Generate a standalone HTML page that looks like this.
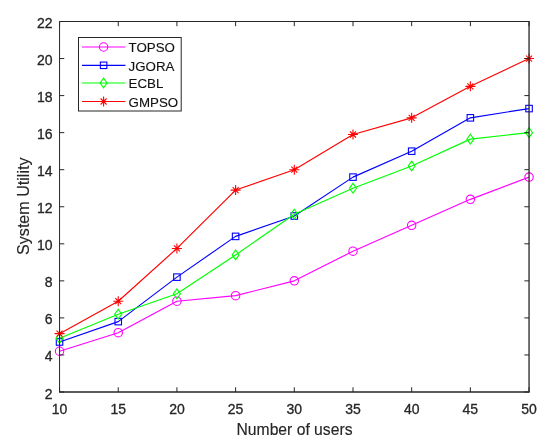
<!DOCTYPE html>
<html><head><meta charset="utf-8"><title>System Utility</title>
<style>
html,body{margin:0;padding:0;background:#fff;}
svg{display:block;filter:blur(0.35px);}
text{font-family:"Liberation Sans",Arial,sans-serif;fill:#262626;stroke:#262626;stroke-width:0.3px;}
.t{font-size:14px;}
.l{font-size:15.7px;stroke-width:0.15px;}
.g{font-size:13.3px;fill:#111;stroke:#111;stroke-width:0.12px;}
</style></head><body>
<svg width="550" height="448" viewBox="0 0 550 448">
<rect width="550" height="448" fill="#fff"/>
<polyline points="59.55,351.25 118.24,332.72 176.92,301.23 235.61,295.67 294.30,280.85 352.99,251.21 411.67,225.28 470.36,199.34 529.05,177.11" fill="none" stroke="#ff00ff" stroke-width="1.15" stroke-linejoin="round"/><circle cx="59.55" cy="351.25" r="4.2" fill="none" stroke="#ff00ff" stroke-width="1.1"/><circle cx="118.24" cy="332.72" r="4.2" fill="none" stroke="#ff00ff" stroke-width="1.1"/><circle cx="176.92" cy="301.23" r="4.2" fill="none" stroke="#ff00ff" stroke-width="1.1"/><circle cx="235.61" cy="295.67" r="4.2" fill="none" stroke="#ff00ff" stroke-width="1.1"/><circle cx="294.30" cy="280.85" r="4.2" fill="none" stroke="#ff00ff" stroke-width="1.1"/><circle cx="352.99" cy="251.21" r="4.2" fill="none" stroke="#ff00ff" stroke-width="1.1"/><circle cx="411.67" cy="225.28" r="4.2" fill="none" stroke="#ff00ff" stroke-width="1.1"/><circle cx="470.36" cy="199.34" r="4.2" fill="none" stroke="#ff00ff" stroke-width="1.1"/><circle cx="529.05" cy="177.11" r="4.2" fill="none" stroke="#ff00ff" stroke-width="1.1"/><polyline points="59.55,341.98 118.24,321.61 176.92,277.14 235.61,236.39 294.30,216.01 352.99,177.11 411.67,151.18 470.36,117.83 529.05,108.57" fill="none" stroke="#0000ff" stroke-width="1.15" stroke-linejoin="round"/><rect x="56.30" y="338.73" width="6.50" height="6.50" fill="none" stroke="#0000ff" stroke-width="1.1"/><rect x="114.99" y="318.36" width="6.50" height="6.50" fill="none" stroke="#0000ff" stroke-width="1.1"/><rect x="173.67" y="273.89" width="6.50" height="6.50" fill="none" stroke="#0000ff" stroke-width="1.1"/><rect x="232.36" y="233.14" width="6.50" height="6.50" fill="none" stroke="#0000ff" stroke-width="1.1"/><rect x="291.05" y="212.76" width="6.50" height="6.50" fill="none" stroke="#0000ff" stroke-width="1.1"/><rect x="349.74" y="173.86" width="6.50" height="6.50" fill="none" stroke="#0000ff" stroke-width="1.1"/><rect x="408.42" y="147.93" width="6.50" height="6.50" fill="none" stroke="#0000ff" stroke-width="1.1"/><rect x="467.11" y="114.58" width="6.50" height="6.50" fill="none" stroke="#0000ff" stroke-width="1.1"/><rect x="525.80" y="105.32" width="6.50" height="6.50" fill="none" stroke="#0000ff" stroke-width="1.1"/><polyline points="59.55,338.28 118.24,314.19 176.92,293.82 235.61,254.91 294.30,214.16 352.99,188.22 411.67,166.00 470.36,139.13 529.05,132.65" fill="none" stroke="#00ff00" stroke-width="1.15" stroke-linejoin="round"/><path d="M59.55 333.38L63.05 338.28L59.55 343.18L56.05 338.28Z" fill="none" stroke="#00ff00" stroke-width="1.1"/><path d="M118.24 309.30L121.74 314.19L118.24 319.09L114.74 314.19Z" fill="none" stroke="#00ff00" stroke-width="1.1"/><path d="M176.92 288.92L180.42 293.82L176.92 298.72L173.42 293.82Z" fill="none" stroke="#00ff00" stroke-width="1.1"/><path d="M235.61 250.01L239.11 254.91L235.61 259.81L232.11 254.91Z" fill="none" stroke="#00ff00" stroke-width="1.1"/><path d="M294.30 209.26L297.80 214.16L294.30 219.06L290.80 214.16Z" fill="none" stroke="#00ff00" stroke-width="1.1"/><path d="M352.99 183.32L356.49 188.22L352.99 193.12L349.49 188.22Z" fill="none" stroke="#00ff00" stroke-width="1.1"/><path d="M411.67 161.10L415.17 166.00L411.67 170.90L408.17 166.00Z" fill="none" stroke="#00ff00" stroke-width="1.1"/><path d="M470.36 134.23L473.86 139.13L470.36 144.03L466.86 139.13Z" fill="none" stroke="#00ff00" stroke-width="1.1"/><path d="M529.05 127.75L532.55 132.65L529.05 137.55L525.55 132.65Z" fill="none" stroke="#00ff00" stroke-width="1.1"/><polyline points="59.55,333.65 118.24,301.23 176.92,248.43 235.61,190.08 294.30,169.70 352.99,134.50 411.67,117.83 470.36,86.34 529.05,58.55" fill="none" stroke="#ff0000" stroke-width="1.15" stroke-linejoin="round"/><path d="M54.55 333.65H64.55M59.55 328.65V338.65M56.55 330.65L62.55 336.65M56.55 336.65L62.55 330.65" stroke="#ff0000" stroke-width="1.1" fill="none"/><path d="M113.24 301.23H123.24M118.24 296.23V306.23M115.24 298.23L121.24 304.23M115.24 304.23L121.24 298.23" stroke="#ff0000" stroke-width="1.1" fill="none"/><path d="M171.92 248.43H181.92M176.92 243.43V253.43M173.92 245.43L179.92 251.43M173.92 251.43L179.92 245.43" stroke="#ff0000" stroke-width="1.1" fill="none"/><path d="M230.61 190.08H240.61M235.61 185.08V195.08M232.61 187.08L238.61 193.08M232.61 193.08L238.61 187.08" stroke="#ff0000" stroke-width="1.1" fill="none"/><path d="M289.30 169.70H299.30M294.30 164.70V174.70M291.30 166.70L297.30 172.70M291.30 172.70L297.30 166.70" stroke="#ff0000" stroke-width="1.1" fill="none"/><path d="M347.99 134.50H357.99M352.99 129.50V139.50M349.99 131.50L355.99 137.50M349.99 137.50L355.99 131.50" stroke="#ff0000" stroke-width="1.1" fill="none"/><path d="M406.67 117.83H416.67M411.67 112.83V122.83M408.67 114.83L414.67 120.83M408.67 120.83L414.67 114.83" stroke="#ff0000" stroke-width="1.1" fill="none"/><path d="M465.36 86.34H475.36M470.36 81.34V91.34M467.36 83.34L473.36 89.34M467.36 89.34L473.36 83.34" stroke="#ff0000" stroke-width="1.1" fill="none"/><path d="M524.05 58.55H534.05M529.05 53.55V63.55M526.05 55.55L532.05 61.55M526.05 61.55L532.05 55.55" stroke="#ff0000" stroke-width="1.1" fill="none"/>
<path d="M59.55 392.0V21.5H529.05" fill="none" stroke="#262626" stroke-width="1"/><path d="M59.05 392.0H529.05V21.0" fill="none" stroke="#262626" stroke-width="1.3"/><path d="M59.55 392.0V387.3M59.55 21.5V26.2M118.24 392.0V387.3M118.24 21.5V26.2M176.92 392.0V387.3M176.92 21.5V26.2M235.61 392.0V387.3M235.61 21.5V26.2M294.3 392.0V387.3M294.3 21.5V26.2M352.99 392.0V387.3M352.99 21.5V26.2M411.67 392.0V387.3M411.67 21.5V26.2M470.36 392.0V387.3M470.36 21.5V26.2M529.05 392.0V387.3M529.05 21.5V26.2M59.55 392.0H64.25M529.05 392.0H524.3499999999999M59.55 354.95H64.25M529.05 354.95H524.3499999999999M59.55 317.9H64.25M529.05 317.9H524.3499999999999M59.55 280.85H64.25M529.05 280.85H524.3499999999999M59.55 243.8H64.25M529.05 243.8H524.3499999999999M59.55 206.75H64.25M529.05 206.75H524.3499999999999M59.55 169.7H64.25M529.05 169.7H524.3499999999999M59.55 132.65H64.25M529.05 132.65H524.3499999999999M59.55 95.6H64.25M529.05 95.6H524.3499999999999M59.55 58.55H64.25M529.05 58.55H524.3499999999999M59.55 21.5H64.25M529.05 21.5H524.3499999999999" stroke="#262626" stroke-width="1" fill="none"/>
<rect x="78.5" y="37.5" width="102.69999999999999" height="73.5" fill="#fff" stroke="#262626" stroke-width="1"/><path d="M82 47.0H125.5" stroke="#ff00ff" stroke-width="1.15"/><circle cx="103.60" cy="47.00" r="4.2" fill="none" stroke="#ff00ff" stroke-width="1.1"/><text x="128.6" y="52.20" class="g">TOPSO</text><path d="M82 65.3H125.5" stroke="#0000ff" stroke-width="1.15"/><rect x="100.35" y="62.05" width="6.50" height="6.50" fill="none" stroke="#0000ff" stroke-width="1.1"/><text x="128.6" y="70.50" class="g">JGORA</text><path d="M82 83.0H125.5" stroke="#00ff00" stroke-width="1.15"/><path d="M103.60 78.10L107.10 83.00L103.60 87.90L100.10 83.00Z" fill="none" stroke="#00ff00" stroke-width="1.1"/><text x="128.6" y="88.20" class="g">ECBL</text><path d="M82 101.5H125.5" stroke="#ff0000" stroke-width="1.15"/><path d="M98.60 101.50H108.60M103.60 96.50V106.50M100.60 98.50L106.60 104.50M100.60 104.50L106.60 98.50" stroke="#ff0000" stroke-width="1.1" fill="none"/><text x="128.6" y="106.70" class="g">GMPSO</text>
<text x="59.55" y="413.5" text-anchor="middle" class="t">10</text><text x="118.24" y="413.5" text-anchor="middle" class="t">15</text><text x="176.92" y="413.5" text-anchor="middle" class="t">20</text><text x="235.61" y="413.5" text-anchor="middle" class="t">25</text><text x="294.30" y="413.5" text-anchor="middle" class="t">30</text><text x="352.99" y="413.5" text-anchor="middle" class="t">35</text><text x="411.67" y="413.5" text-anchor="middle" class="t">40</text><text x="470.36" y="413.5" text-anchor="middle" class="t">45</text><text x="529.05" y="413.5" text-anchor="middle" class="t">50</text><text x="52.5" y="398.50" text-anchor="end" class="t">2</text><text x="52.5" y="361.45" text-anchor="end" class="t">4</text><text x="52.5" y="324.40" text-anchor="end" class="t">6</text><text x="52.5" y="287.35" text-anchor="end" class="t">8</text><text x="52.5" y="250.30" text-anchor="end" class="t">10</text><text x="52.5" y="213.25" text-anchor="end" class="t">12</text><text x="52.5" y="176.20" text-anchor="end" class="t">14</text><text x="52.5" y="139.15" text-anchor="end" class="t">16</text><text x="52.5" y="102.10" text-anchor="end" class="t">18</text><text x="52.5" y="65.05" text-anchor="end" class="t">20</text><text x="52.5" y="28.00" text-anchor="end" class="t">22</text><text x="294.5" y="434.7" text-anchor="middle" class="l">Number of users</text><text transform="translate(28.6 206.2) rotate(-90)" x="0" y="0" text-anchor="middle" class="l" style="font-size:16.1px">System Utility</text>
</svg>
</body></html>
